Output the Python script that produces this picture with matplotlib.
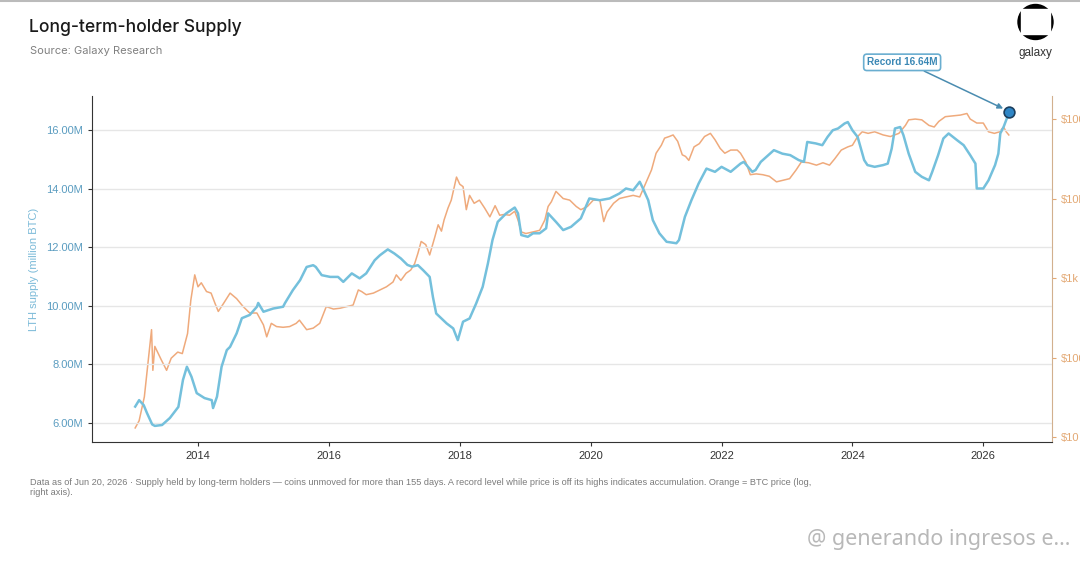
import numpy as np
import matplotlib.pyplot as plt
from matplotlib.patches import Circle, Rectangle

# LTH supply (million BTC)
lth_year = [2013.04, 2013.10, 2013.17, 2013.22, 2013.30, 2013.34, 2013.45, 2013.57, 2013.70, 2013.77,
            2013.83, 2013.90, 2013.98, 2014.10, 2014.21, 2014.23, 2014.29, 2014.36, 2014.44, 2014.49,
            2014.59, 2014.67, 2014.79, 2014.90, 2014.92, 2015.00, 2015.15, 2015.30, 2015.33, 2015.45,
            2015.56, 2015.66, 2015.76, 2015.80, 2015.89, 2016.02, 2016.14, 2016.22, 2016.35, 2016.47,
            2016.57, 2016.70, 2016.78, 2016.90, 2017.00, 2017.10, 2017.20, 2017.27, 2017.36, 2017.44,
            2017.54, 2017.59, 2017.64, 2017.80, 2017.90, 2017.97, 2018.05, 2018.15, 2018.25, 2018.35,
            2018.43, 2018.50, 2018.58, 2018.71, 2018.84, 2018.89, 2018.94, 2019.04, 2019.12, 2019.22,
            2019.32, 2019.35, 2019.47, 2019.58, 2019.70, 2019.85, 2019.98, 2020.14, 2020.29, 2020.44,
            2020.54, 2020.65, 2020.75, 2020.80, 2020.88, 2020.95, 2021.05, 2021.16, 2021.31, 2021.35,
            2021.44, 2021.54, 2021.65, 2021.77, 2021.90, 2022.00, 2022.14, 2022.29, 2022.34, 2022.47,
            2022.52, 2022.60, 2022.80, 2022.93, 2023.05, 2023.18, 2023.26, 2023.31, 2023.44, 2023.54,
            2023.62, 2023.70, 2023.78, 2023.88, 2023.93, 2024.00, 2024.08, 2024.13, 2024.18, 2024.23,
            2024.34, 2024.47, 2024.54, 2024.60, 2024.65, 2024.73, 2024.78, 2024.86, 2024.96, 2025.06,
            2025.17, 2025.22, 2025.31, 2025.39, 2025.47, 2025.60, 2025.70, 2025.80, 2025.88, 2025.90,
            2026.00, 2026.08, 2026.18, 2026.23, 2026.26, 2026.31, 2026.40]
lth_supply = [6.56, 6.78, 6.61, 6.34, 5.95, 5.90, 5.93, 6.17, 6.55, 7.47,
              7.92, 7.58, 7.02, 6.85, 6.78, 6.51, 6.90, 7.92, 8.49, 8.60,
              9.06, 9.58, 9.69, 9.97, 10.10, 9.80, 9.91, 9.97, 10.10, 10.54,
              10.88, 11.33, 11.39, 11.33, 11.05, 10.99, 10.99, 10.82, 11.11, 10.94,
              11.11, 11.56, 11.73, 11.93, 11.79, 11.62, 11.40, 11.34, 11.39, 11.22,
              10.99, 10.30, 9.74, 9.40, 9.23, 8.83, 9.46, 9.57, 10.08, 10.65,
              11.45, 12.25, 12.87, 13.16, 13.36, 13.16, 12.42, 12.36, 12.48, 12.48,
              12.65, 13.16, 12.87, 12.59, 12.70, 12.99, 13.67, 13.61, 13.67, 13.84,
              14.01, 13.95, 14.24, 14.01, 13.61, 12.93, 12.48, 12.19, 12.14, 12.25,
              13.04, 13.61, 14.18, 14.69, 14.58, 14.75, 14.58, 14.86, 14.92, 14.58,
              14.64, 14.92, 15.32, 15.20, 15.15, 14.98, 14.92, 15.60, 15.55, 15.49,
              15.77, 16.00, 16.06, 16.23, 16.28, 16.00, 15.77, 15.37, 14.98, 14.81,
              14.75, 14.81, 14.86, 15.37, 16.06, 16.11, 15.83, 15.20, 14.58, 14.41,
              14.29, 14.58, 15.15, 15.72, 15.89, 15.66, 15.49, 15.15, 14.86, 14.01,
              14.01, 14.29, 14.81, 15.20, 15.89, 16.11, 16.64]

# BTC price (USD, log axis)
btc_year = [2013.04, 2013.10, 2013.18, 2013.29, 2013.31, 2013.34, 2013.44, 2013.52, 2013.59, 2013.69,
            2013.76, 2013.84, 2013.89, 2013.95, 2014.00, 2014.05, 2014.13, 2014.20, 2014.26, 2014.31,
            2014.39, 2014.49, 2014.59, 2014.69, 2014.79, 2014.90, 2015.00, 2015.05, 2015.12, 2015.20,
            2015.30, 2015.40, 2015.50, 2015.55, 2015.66, 2015.76, 2015.86, 2015.96, 2016.07, 2016.17,
            2016.27, 2016.37, 2016.45, 2016.50, 2016.57, 2016.68, 2016.78, 2016.88, 2016.98, 2017.03,
            2017.10, 2017.18, 2017.25, 2017.31, 2017.36, 2017.41, 2017.48, 2017.54, 2017.62, 2017.67,
            2017.72, 2017.76, 2017.82, 2017.87, 2017.95, 2018.00, 2018.05, 2018.10, 2018.15, 2018.22,
            2018.30, 2018.38, 2018.46, 2018.54, 2018.61, 2018.68, 2018.76, 2018.84, 2018.89, 2018.94,
            2019.01, 2019.12, 2019.22, 2019.30, 2019.35, 2019.40, 2019.47, 2019.58, 2019.68, 2019.78,
            2019.85, 2019.95, 2020.04, 2020.14, 2020.20, 2020.25, 2020.35, 2020.44, 2020.54, 2020.65,
            2020.75, 2020.85, 2020.93, 2021.00, 2021.08, 2021.13, 2021.20, 2021.26, 2021.33, 2021.40,
            2021.45, 2021.50, 2021.58, 2021.66, 2021.74, 2021.83, 2021.90, 2021.98, 2022.05, 2022.14,
            2022.24, 2022.29, 2022.37, 2022.44, 2022.53, 2022.63, 2022.73, 2022.84, 2022.94, 2023.04,
            2023.14, 2023.22, 2023.33, 2023.45, 2023.55, 2023.65, 2023.73, 2023.83, 2023.93, 2024.00,
            2024.08, 2024.15, 2024.24, 2024.34, 2024.47, 2024.58, 2024.71, 2024.81, 2024.86, 2024.96,
            2025.06, 2025.17, 2025.25, 2025.32, 2025.42, 2025.54, 2025.65, 2025.75, 2025.80, 2025.90,
            2026.00, 2026.08, 2026.17, 2026.25, 2026.31, 2026.35, 2026.39]
btc_price = [13, 16, 32, 224, 69, 138, 93, 69, 98, 117,
             112, 200, 525, 1096, 776, 871, 676, 646, 479, 380,
             479, 646, 550, 437, 363, 363, 257, 182, 269, 245,
             240, 245, 269, 295, 224, 234, 269, 437, 407, 417,
             437, 457, 708, 676, 617, 646, 708, 776, 891, 1096,
             933, 1148, 1259, 1514, 2042, 2884, 2630, 1950, 3311, 4677,
             3890, 5370, 7586, 9550, 18621, 15136, 14125, 7244, 10965, 8710,
             9550, 7586, 5888, 8128, 6166, 6310, 6166, 6918, 5370, 3802,
             3631, 3802, 3981, 5370, 7943, 9120, 12303, 10000, 9550, 7943,
             7244, 7943, 9550, 9550, 5129, 6761, 8710, 10000, 10471, 10965,
             10471, 16218, 22909, 37154, 46774, 57544, 60256, 63096, 52481, 35481,
             33884, 30200, 44668, 48978, 60256, 66069, 54954, 42658, 37154, 40738,
             40738, 37154, 28840, 19953, 20417, 19953, 19055, 16218, 16982, 17783,
             22909, 28840, 28184, 26303, 28184, 26303, 31623, 40738, 44668, 46774,
             60256, 69183, 66069, 69183, 63096, 60256, 66069, 83176, 97724, 100000,
             97724, 83176, 79433, 93325, 107152, 109648, 112202, 117490, 100000, 89125,
             89125, 69183, 66069, 69183, 79433, 69183, 63096]

supply_ticks = [6, 8, 10, 12, 14, 16]
price_ticks = [10, 100, 1000, 10000, 100000]
price_labels = ['$10', '$100', '$1k', '$10k', '$100k']
year_ticks = [2014, 2016, 2018, 2020, 2022, 2024, 2026]

BLUE = '#74c0dc'
ORANGE = '#efaa7c'
TICKBLUE = '#5a9cc0'
TAN = '#e3a873'

plt.rcParams['font.family'] = ['Liberation Sans', 'DejaVu Sans']

fig = plt.figure(figsize=(10.8, 5.63), dpi=100)
ax = fig.add_axes([92 / 1080, 1 - 442 / 563, (1052 - 92) / 1080, (442 - 96) / 563])
ax2 = ax.twinx()

ax.set_zorder(2)
ax.patch.set_visible(False)

ax2.plot(btc_year, btc_price, color=ORANGE, lw=1.1)
ax2.set_yscale('log')
ax2.set_ylim(8.65, 195000)
ax2.set_yticks(price_ticks)
ax2.set_yticklabels(price_labels)
ax2.yaxis.set_minor_locator(plt.NullLocator())
ax2.tick_params(axis='y', colors=TAN, labelsize=8, length=3, width=0.8)
for s in ['top', 'left', 'bottom']:
    ax2.spines[s].set_visible(False)
ax2.spines['right'].set_color('#d2b08e')

ax.plot(lth_year, lth_supply, color=BLUE, lw=1.8, solid_joinstyle='round')
ax.scatter([lth_year[-1]], [lth_supply[-1]], s=60, color='#2f86c6', edgecolor='#1c3f5e',
           linewidth=1.2, zorder=5)
ax.set_xlim(2012.38, 2027.05)
ax.set_ylim(5.35, 17.17)
ax.set_yticks(supply_ticks)
ax.set_yticklabels(['%.2fM' % v for v in supply_ticks])
ax.set_xticks(year_ticks)
ax.set_xticklabels([str(y) for y in year_ticks])
ax.grid(axis='y', color='#e6e6e6', lw=1)
ax.set_axisbelow(True)
ax.tick_params(axis='y', colors='#333333', labelcolor=TICKBLUE, labelsize=8, length=3, width=0.8)
ax.tick_params(axis='x', colors='#333333', labelcolor='#333333', labelsize=8, length=3, width=0.8)
for s in ['top', 'right']:
    ax.spines[s].set_visible(False)
ax.spines['left'].set_color('#333333')
ax.spines['bottom'].set_color('#333333')
ax.set_ylabel('LTH supply (million BTC)', color='#7bbad8', fontsize=8, labelpad=5)

ax.annotate('Record 16.64M', xy=(lth_year[-1], lth_supply[-1]), xytext=(2024.76, 18.32),
            fontsize=7.2, fontweight='bold', color='#3b88b5', ha='center', va='center',
            annotation_clip=False,
            bbox=dict(boxstyle='round,pad=0.32', fc='white', ec='#6aaed0', lw=1.2),
            arrowprops=dict(arrowstyle='-|>', color='#4a8cb0', lw=1.1, shrinkA=0, shrinkB=5,
                            relpos=(0.7, 0.0), mutation_scale=8))

# title, source and footnote
fig.text(29 / 1080, 1 - 28 / 563, 'Long-term-holder Supply', fontsize=12.6, fontweight='medium',
         family=['Inter', 'DejaVu Sans'], color='#1a1a1a', va='center')
fig.text(30 / 1080, 1 - 51 / 563, 'Source: Galaxy Research', fontsize=8, family=['Inter', 'DejaVu Sans'],
         color='#808080', va='center')
fig.text(30 / 1080, 1 - 478 / 563,
         'Data as of Jun 20, 2026 \u00b7 Supply held by long-term holders \u2014 coins unmoved for more than 155 days. '
         'A record level while price is off its highs indicates accumulation. Orange = BTC price (log,\nright axis).',
         fontsize=6.6, color='#7a7a7a', va='top', linespacing=1.1)

# galaxy logo
over = fig.add_axes([0, 0, 1, 1], zorder=10)
over.set_xlim(0, 1080)
over.set_ylim(563, 0)
over.axis('off')
over.add_patch(Circle((1035.5, 22), 17.5, color='black'))
over.add_patch(Rectangle((1021, 8.5), 29, 25, color='white'))
over.text(1035.5, 53, 'galaxy', fontsize=8.5, color='#333333', ha='center', va='center')
over.plot([0, 1080], [0.5, 0.5], color='#bbbbbb', lw=1.5)

# watermark
over.text(1070, 540, '@ generando ingresos e...', fontsize=15.5, family=['Noto Sans', 'DejaVu Sans'],
          color='#b8b8b8', ha='right', va='center')

fig.savefig('out.png', dpi=100)
